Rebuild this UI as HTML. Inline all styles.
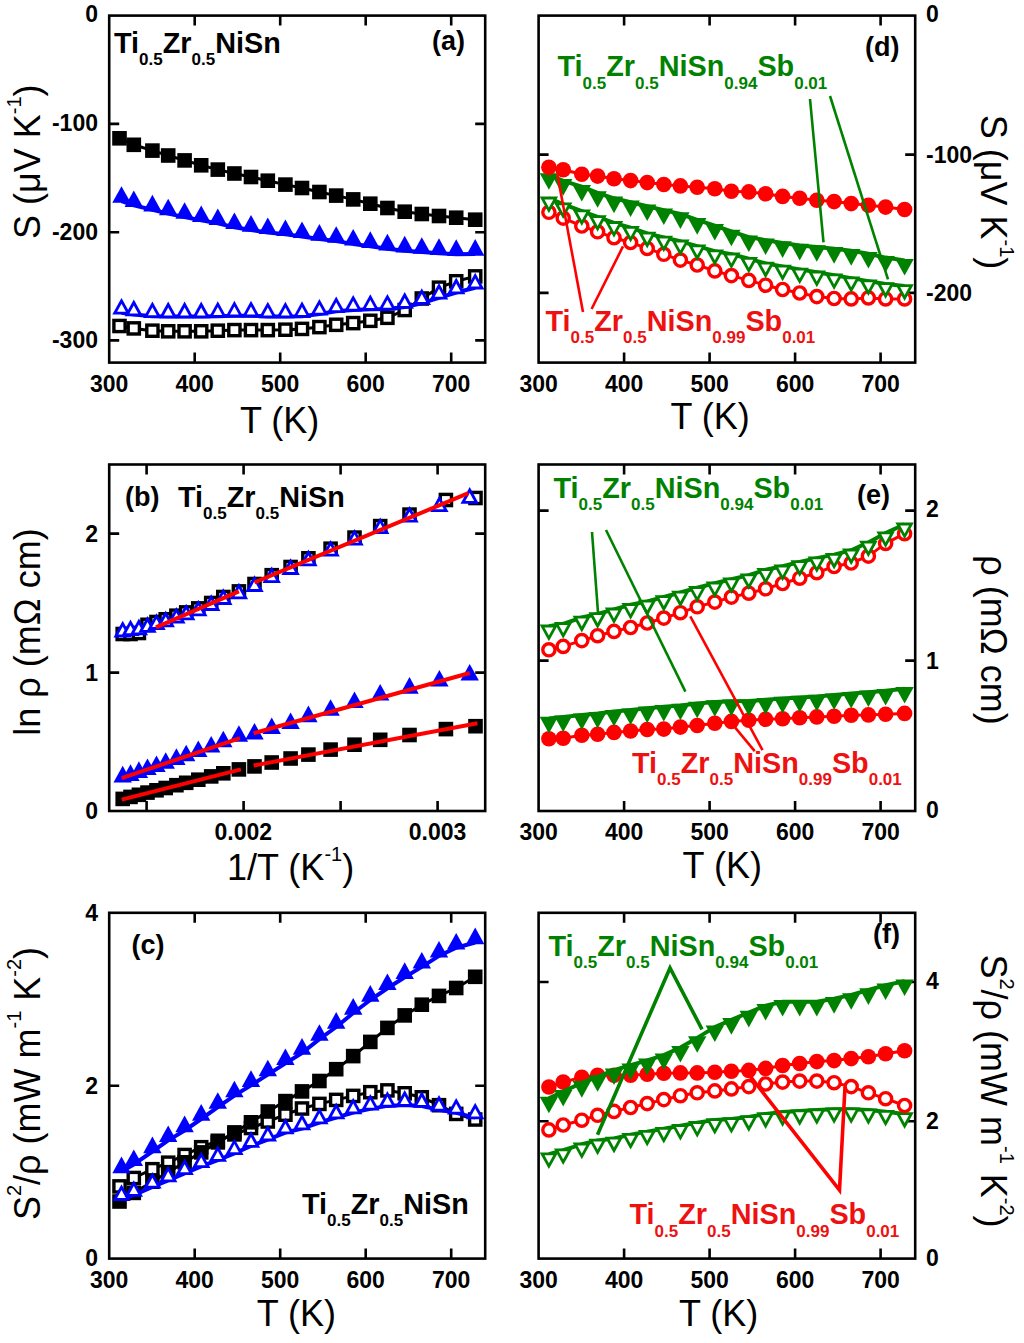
<!DOCTYPE html>
<html><head><meta charset="utf-8"><title>Figure</title>
<style>
html,body{margin:0;padding:0;background:#fff;}
body{width:1024px;height:1343px;overflow:hidden;font-family:"Liberation Sans",sans-serif;}
svg{display:block;}
#w{width:1024px;height:1343px;}
</style></head><body><div id="w">
<svg width="1024" height="1343" viewBox="0 0 1024 1343">
<rect width="1024" height="1343" fill="#fff"/>
<rect x="109.2" y="15.6" width="376" height="347" fill="none" stroke="#000" stroke-width="2.6"/>
<path d="M194.7 362.6v-10M194.7 15.6v10M280.2 362.6v-10M280.2 15.6v10M365.7 362.6v-10M365.7 15.6v10M451.2 362.6v-10M451.2 15.6v10M109.2 123.9h10M485.2 123.9h-10M109.2 232.2h10M485.2 232.2h-10M109.2 340.4h10M485.2 340.4h-10" stroke="#000" stroke-width="2.6" fill="none"/>
<polyline points="119.5,326 133.8,328.4 152.4,330.7 168.2,331.3 184.6,331.3 201.2,331.3 217.8,330.7 234.4,330.1 251,330.1 267.8,330.1 285.4,329.7 302,328.9 319.4,327.1 336.2,324.8 353.2,323.1 370.3,320.8 387.4,317.8 404.7,310 421.8,298.5 439,287.7 456.2,281.3 475.2,276.4" fill="none" stroke="#000" stroke-width="3.0" stroke-linejoin="round"/>
<rect x="113.9" y="320.4" width="11.2" height="11.2" fill="#fff" stroke="#000" stroke-width="3.4"/>
<rect x="128.2" y="322.8" width="11.2" height="11.2" fill="#fff" stroke="#000" stroke-width="3.4"/>
<rect x="146.8" y="325.1" width="11.2" height="11.2" fill="#fff" stroke="#000" stroke-width="3.4"/>
<rect x="162.6" y="325.7" width="11.2" height="11.2" fill="#fff" stroke="#000" stroke-width="3.4"/>
<rect x="179" y="325.7" width="11.2" height="11.2" fill="#fff" stroke="#000" stroke-width="3.4"/>
<rect x="195.6" y="325.7" width="11.2" height="11.2" fill="#fff" stroke="#000" stroke-width="3.4"/>
<rect x="212.2" y="325.1" width="11.2" height="11.2" fill="#fff" stroke="#000" stroke-width="3.4"/>
<rect x="228.8" y="324.5" width="11.2" height="11.2" fill="#fff" stroke="#000" stroke-width="3.4"/>
<rect x="245.4" y="324.5" width="11.2" height="11.2" fill="#fff" stroke="#000" stroke-width="3.4"/>
<rect x="262.2" y="324.5" width="11.2" height="11.2" fill="#fff" stroke="#000" stroke-width="3.4"/>
<rect x="279.8" y="324.1" width="11.2" height="11.2" fill="#fff" stroke="#000" stroke-width="3.4"/>
<rect x="296.4" y="323.3" width="11.2" height="11.2" fill="#fff" stroke="#000" stroke-width="3.4"/>
<rect x="313.8" y="321.5" width="11.2" height="11.2" fill="#fff" stroke="#000" stroke-width="3.4"/>
<rect x="330.6" y="319.2" width="11.2" height="11.2" fill="#fff" stroke="#000" stroke-width="3.4"/>
<rect x="347.6" y="317.5" width="11.2" height="11.2" fill="#fff" stroke="#000" stroke-width="3.4"/>
<rect x="364.7" y="315.2" width="11.2" height="11.2" fill="#fff" stroke="#000" stroke-width="3.4"/>
<rect x="381.8" y="312.2" width="11.2" height="11.2" fill="#fff" stroke="#000" stroke-width="3.4"/>
<rect x="399.1" y="304.4" width="11.2" height="11.2" fill="#fff" stroke="#000" stroke-width="3.4"/>
<rect x="416.2" y="292.9" width="11.2" height="11.2" fill="#fff" stroke="#000" stroke-width="3.4"/>
<rect x="433.4" y="282.1" width="11.2" height="11.2" fill="#fff" stroke="#000" stroke-width="3.4"/>
<rect x="450.6" y="275.7" width="11.2" height="11.2" fill="#fff" stroke="#000" stroke-width="3.4"/>
<rect x="469.6" y="270.8" width="11.2" height="11.2" fill="#fff" stroke="#000" stroke-width="3.4"/>
<polyline points="121.5,312.8 133.8,314.5 152.4,316.3 168.2,316.5 184.6,316.5 201.2,316.5 217.8,316.2 234.4,315.7 251,315.7 267.8,316.6 285.4,316.6 302,316.2 319.4,313.9 336.2,311.3 353.2,309.9 370.3,309.2 387.4,308.9 404.7,307 421.8,303.2 439,297.9 456.2,292.5 475.2,287.7" fill="none" stroke="#0000ff" stroke-width="4.0" stroke-linejoin="round"/>
<polygon points="112.3,314.5 130.7,314.5 121.5,297.9" fill="#0000ff"/><polygon points="117.1,311.7 125.9,311.7 121.5,303.7" fill="#fff"/>
<polygon points="124.6,316.2 143,316.2 133.8,299.6" fill="#0000ff"/><polygon points="129.4,313.4 138.2,313.4 133.8,305.4" fill="#fff"/>
<polygon points="143.2,318 161.6,318 152.4,301.4" fill="#0000ff"/><polygon points="148,315.2 156.8,315.2 152.4,307.2" fill="#fff"/>
<polygon points="159,318.2 177.4,318.2 168.2,301.6" fill="#0000ff"/><polygon points="163.8,315.4 172.6,315.4 168.2,307.4" fill="#fff"/>
<polygon points="175.4,318.2 193.8,318.2 184.6,301.6" fill="#0000ff"/><polygon points="180.2,315.4 189,315.4 184.6,307.4" fill="#fff"/>
<polygon points="192,318.2 210.4,318.2 201.2,301.6" fill="#0000ff"/><polygon points="196.8,315.4 205.6,315.4 201.2,307.4" fill="#fff"/>
<polygon points="208.6,317.9 227,317.9 217.8,301.3" fill="#0000ff"/><polygon points="213.4,315.1 222.2,315.1 217.8,307.1" fill="#fff"/>
<polygon points="225.2,317.4 243.6,317.4 234.4,300.8" fill="#0000ff"/><polygon points="230,314.6 238.8,314.6 234.4,306.6" fill="#fff"/>
<polygon points="241.8,317.4 260.2,317.4 251,300.8" fill="#0000ff"/><polygon points="246.6,314.6 255.4,314.6 251,306.6" fill="#fff"/>
<polygon points="258.6,318.3 277,318.3 267.8,301.7" fill="#0000ff"/><polygon points="263.4,315.5 272.2,315.5 267.8,307.5" fill="#fff"/>
<polygon points="276.2,318.3 294.6,318.3 285.4,301.7" fill="#0000ff"/><polygon points="281,315.5 289.8,315.5 285.4,307.5" fill="#fff"/>
<polygon points="292.8,317.9 311.2,317.9 302,301.3" fill="#0000ff"/><polygon points="297.6,315.1 306.4,315.1 302,307.1" fill="#fff"/>
<polygon points="310.2,315.6 328.6,315.6 319.4,299" fill="#0000ff"/><polygon points="315,312.8 323.8,312.8 319.4,304.8" fill="#fff"/>
<polygon points="327,313 345.4,313 336.2,296.4" fill="#0000ff"/><polygon points="331.8,310.2 340.6,310.2 336.2,302.2" fill="#fff"/>
<polygon points="344,311.6 362.4,311.6 353.2,295" fill="#0000ff"/><polygon points="348.8,308.8 357.6,308.8 353.2,300.8" fill="#fff"/>
<polygon points="361.1,310.9 379.5,310.9 370.3,294.3" fill="#0000ff"/><polygon points="365.9,308.1 374.7,308.1 370.3,300.1" fill="#fff"/>
<polygon points="378.2,310.6 396.6,310.6 387.4,294" fill="#0000ff"/><polygon points="383,307.8 391.8,307.8 387.4,299.8" fill="#fff"/>
<polygon points="395.5,308.7 413.9,308.7 404.7,292.1" fill="#0000ff"/><polygon points="400.3,305.9 409.1,305.9 404.7,297.9" fill="#fff"/>
<polygon points="412.6,304.9 431,304.9 421.8,288.3" fill="#0000ff"/><polygon points="417.4,302.1 426.2,302.1 421.8,294.1" fill="#fff"/>
<polygon points="429.8,299.6 448.2,299.6 439,283" fill="#0000ff"/><polygon points="434.6,296.8 443.4,296.8 439,288.8" fill="#fff"/>
<polygon points="447,294.2 465.4,294.2 456.2,277.6" fill="#0000ff"/><polygon points="451.8,291.4 460.6,291.4 456.2,283.4" fill="#fff"/>
<polygon points="466,289.4 484.4,289.4 475.2,272.8" fill="#0000ff"/><polygon points="470.8,286.6 479.6,286.6 475.2,278.6" fill="#fff"/>
<polyline points="119.5,138.3 133.8,144.8 152.4,150.6 168.2,155.5 184.6,160.4 201.2,165.3 217.8,169.6 234.4,173.5 251,177 267.8,180.7 285.4,184.6 302,188 319.4,192 336.2,195.6 353.2,199.4 370.3,203.7 387.4,208 404.7,211.7 421.8,214 439,216 456.2,217.7 475.2,219.7" fill="none" stroke="#000" stroke-width="3.0" stroke-linejoin="round"/>
<rect x="112.2" y="131" width="14.6" height="14.6" fill="#000"/>
<rect x="126.5" y="137.5" width="14.6" height="14.6" fill="#000"/>
<rect x="145.1" y="143.3" width="14.6" height="14.6" fill="#000"/>
<rect x="160.9" y="148.2" width="14.6" height="14.6" fill="#000"/>
<rect x="177.3" y="153.1" width="14.6" height="14.6" fill="#000"/>
<rect x="193.9" y="158" width="14.6" height="14.6" fill="#000"/>
<rect x="210.5" y="162.3" width="14.6" height="14.6" fill="#000"/>
<rect x="227.1" y="166.2" width="14.6" height="14.6" fill="#000"/>
<rect x="243.7" y="169.7" width="14.6" height="14.6" fill="#000"/>
<rect x="260.5" y="173.4" width="14.6" height="14.6" fill="#000"/>
<rect x="278.1" y="177.3" width="14.6" height="14.6" fill="#000"/>
<rect x="294.7" y="180.7" width="14.6" height="14.6" fill="#000"/>
<rect x="312.1" y="184.7" width="14.6" height="14.6" fill="#000"/>
<rect x="328.9" y="188.3" width="14.6" height="14.6" fill="#000"/>
<rect x="345.9" y="192.1" width="14.6" height="14.6" fill="#000"/>
<rect x="363" y="196.4" width="14.6" height="14.6" fill="#000"/>
<rect x="380.1" y="200.7" width="14.6" height="14.6" fill="#000"/>
<rect x="397.4" y="204.4" width="14.6" height="14.6" fill="#000"/>
<rect x="414.5" y="206.7" width="14.6" height="14.6" fill="#000"/>
<rect x="431.7" y="208.7" width="14.6" height="14.6" fill="#000"/>
<rect x="448.9" y="210.4" width="14.6" height="14.6" fill="#000"/>
<rect x="467.9" y="212.4" width="14.6" height="14.6" fill="#000"/>
<polyline points="121.5,201.1 133.8,205.4 152.4,209.7 168.2,213.6 184.6,217.1 201.2,220.3 217.8,223.4 234.4,227.3 251,230 267.8,232.4 285.4,234.3 302,236.4 319.4,239 336.2,241.1 353.2,243.9 370.3,246.2 387.4,248.7 404.7,250.7 421.8,252.1 439,253.2 456.2,254.2 475.2,254" fill="none" stroke="#0000ff" stroke-width="4.0" stroke-linejoin="round"/>
<polygon points="112.3,202.8 130.7,202.8 121.5,186.2" fill="#0000ff"/>
<polygon points="124.6,207.1 143,207.1 133.8,190.5" fill="#0000ff"/>
<polygon points="143.2,211.4 161.6,211.4 152.4,194.8" fill="#0000ff"/>
<polygon points="159,215.3 177.4,215.3 168.2,198.7" fill="#0000ff"/>
<polygon points="175.4,218.8 193.8,218.8 184.6,202.2" fill="#0000ff"/>
<polygon points="192,222 210.4,222 201.2,205.4" fill="#0000ff"/>
<polygon points="208.6,225.1 227,225.1 217.8,208.5" fill="#0000ff"/>
<polygon points="225.2,229 243.6,229 234.4,212.4" fill="#0000ff"/>
<polygon points="241.8,231.7 260.2,231.7 251,215.1" fill="#0000ff"/>
<polygon points="258.6,234.1 277,234.1 267.8,217.5" fill="#0000ff"/>
<polygon points="276.2,236 294.6,236 285.4,219.4" fill="#0000ff"/>
<polygon points="292.8,238.1 311.2,238.1 302,221.5" fill="#0000ff"/>
<polygon points="310.2,240.7 328.6,240.7 319.4,224.1" fill="#0000ff"/>
<polygon points="327,242.8 345.4,242.8 336.2,226.2" fill="#0000ff"/>
<polygon points="344,245.6 362.4,245.6 353.2,229" fill="#0000ff"/>
<polygon points="361.1,247.9 379.5,247.9 370.3,231.3" fill="#0000ff"/>
<polygon points="378.2,250.4 396.6,250.4 387.4,233.8" fill="#0000ff"/>
<polygon points="395.5,252.4 413.9,252.4 404.7,235.8" fill="#0000ff"/>
<polygon points="412.6,253.8 431,253.8 421.8,237.2" fill="#0000ff"/>
<polygon points="429.8,254.9 448.2,254.9 439,238.3" fill="#0000ff"/>
<polygon points="447,255.9 465.4,255.9 456.2,239.3" fill="#0000ff"/>
<polygon points="466,255.7 484.4,255.7 475.2,239.1" fill="#0000ff"/>
<rect x="109.2" y="464.5" width="376" height="346.5" fill="none" stroke="#000" stroke-width="2.6"/>
<path d="M146.6 811v-10M146.6 464.5v10M243.6 811v-10M243.6 464.5v10M340.6 811v-10M340.6 464.5v10M437.6 811v-10M437.6 464.5v10M109.2 533.6h10M485.2 533.6h-10M109.2 672.6h10M485.2 672.6h-10" stroke="#000" stroke-width="2.6" fill="none"/>
<rect x="117.1" y="628.4" width="11.2" height="11.2" fill="#fff" stroke="#000" stroke-width="3.4"/>
<rect x="124.9" y="628.4" width="11.2" height="11.2" fill="#fff" stroke="#000" stroke-width="3.4"/>
<rect x="133.3" y="627.4" width="11.2" height="11.2" fill="#fff" stroke="#000" stroke-width="3.4"/>
<rect x="141.9" y="619.2" width="11.2" height="11.2" fill="#fff" stroke="#000" stroke-width="3.4"/>
<rect x="150.9" y="616.4" width="11.2" height="11.2" fill="#fff" stroke="#000" stroke-width="3.4"/>
<rect x="160.1" y="613.7" width="11.2" height="11.2" fill="#fff" stroke="#000" stroke-width="3.4"/>
<rect x="170.8" y="610.1" width="11.2" height="11.2" fill="#fff" stroke="#000" stroke-width="3.4"/>
<rect x="180.6" y="606.8" width="11.2" height="11.2" fill="#fff" stroke="#000" stroke-width="3.4"/>
<rect x="192.7" y="602.8" width="11.2" height="11.2" fill="#fff" stroke="#000" stroke-width="3.4"/>
<rect x="205.6" y="597.4" width="11.2" height="11.2" fill="#fff" stroke="#000" stroke-width="3.4"/>
<rect x="217.7" y="591.4" width="11.2" height="11.2" fill="#fff" stroke="#000" stroke-width="3.4"/>
<rect x="233.3" y="585.8" width="11.2" height="11.2" fill="#fff" stroke="#000" stroke-width="3.4"/>
<rect x="248.9" y="578.4" width="11.2" height="11.2" fill="#fff" stroke="#000" stroke-width="3.4"/>
<rect x="266.1" y="569.6" width="11.2" height="11.2" fill="#fff" stroke="#000" stroke-width="3.4"/>
<rect x="285" y="561.4" width="11.2" height="11.2" fill="#fff" stroke="#000" stroke-width="3.4"/>
<rect x="302.8" y="552.7" width="11.2" height="11.2" fill="#fff" stroke="#000" stroke-width="3.4"/>
<rect x="325" y="543.1" width="11.2" height="11.2" fill="#fff" stroke="#000" stroke-width="3.4"/>
<rect x="348.9" y="532" width="11.2" height="11.2" fill="#fff" stroke="#000" stroke-width="3.4"/>
<rect x="374.6" y="520.5" width="11.2" height="11.2" fill="#fff" stroke="#000" stroke-width="3.4"/>
<rect x="403.9" y="509" width="11.2" height="11.2" fill="#fff" stroke="#000" stroke-width="3.4"/>
<rect x="440.3" y="494.4" width="11.2" height="11.2" fill="#fff" stroke="#000" stroke-width="3.4"/>
<rect x="469.9" y="492.4" width="11.2" height="11.2" fill="#fff" stroke="#000" stroke-width="3.4"/>
<polygon points="113.5,637.4 131.9,637.4 122.7,620.8" fill="#0000ff"/><polygon points="118.3,634.6 127.1,634.6 122.7,626.6" fill="#fff"/>
<polygon points="121.3,636 139.7,636 130.5,619.4" fill="#0000ff"/><polygon points="126.1,633.2 134.9,633.2 130.5,625.2" fill="#fff"/>
<polygon points="129.7,635.2 148.1,635.2 138.9,618.6" fill="#0000ff"/><polygon points="134.5,632.4 143.3,632.4 138.9,624.4" fill="#fff"/>
<polygon points="138.3,632.7 156.7,632.7 147.5,616.1" fill="#0000ff"/><polygon points="143.1,629.9 151.9,629.9 147.5,621.9" fill="#fff"/>
<polygon points="147.3,629.9 165.7,629.9 156.5,613.3" fill="#0000ff"/><polygon points="152.1,627.1 160.9,627.1 156.5,619.1" fill="#fff"/>
<polygon points="156.5,627.2 174.9,627.2 165.7,610.6" fill="#0000ff"/><polygon points="161.3,624.4 170.1,624.4 165.7,616.4" fill="#fff"/>
<polygon points="167.2,623.6 185.6,623.6 176.4,607" fill="#0000ff"/><polygon points="172,620.8 180.8,620.8 176.4,612.8" fill="#fff"/>
<polygon points="177,620.3 195.4,620.3 186.2,603.7" fill="#0000ff"/><polygon points="181.8,617.5 190.6,617.5 186.2,609.5" fill="#fff"/>
<polygon points="189.1,616.3 207.5,616.3 198.3,599.7" fill="#0000ff"/><polygon points="193.9,613.5 202.7,613.5 198.3,605.5" fill="#fff"/>
<polygon points="202,610.9 220.4,610.9 211.2,594.3" fill="#0000ff"/><polygon points="206.8,608.1 215.6,608.1 211.2,600" fill="#fff"/>
<polygon points="214.1,604.9 232.5,604.9 223.3,588.3" fill="#0000ff"/><polygon points="218.9,602.1 227.7,602.1 223.3,594.1" fill="#fff"/>
<polygon points="229.7,599.3 248.1,599.3 238.9,582.7" fill="#0000ff"/><polygon points="234.5,596.5 243.3,596.5 238.9,588.5" fill="#fff"/>
<polygon points="245.3,591.9 263.7,591.9 254.5,575.3" fill="#0000ff"/><polygon points="250.1,589.1 258.9,589.1 254.5,581.1" fill="#fff"/>
<polygon points="262.5,583.1 280.9,583.1 271.7,566.5" fill="#0000ff"/><polygon points="267.3,580.3 276.1,580.3 271.7,572.3" fill="#fff"/>
<polygon points="281.4,574.9 299.8,574.9 290.6,558.3" fill="#0000ff"/><polygon points="286.2,572.1 295,572.1 290.6,564.1" fill="#fff"/>
<polygon points="299.2,566.2 317.6,566.2 308.4,549.6" fill="#0000ff"/><polygon points="304,563.4 312.8,563.4 308.4,555.4" fill="#fff"/>
<polygon points="321.4,556.6 339.8,556.6 330.6,540" fill="#0000ff"/><polygon points="326.2,553.8 335,553.8 330.6,545.8" fill="#fff"/>
<polygon points="345.3,545.5 363.7,545.5 354.5,528.9" fill="#0000ff"/><polygon points="350.1,542.7 358.9,542.7 354.5,534.6" fill="#fff"/>
<polygon points="371,534 389.4,534 380.2,517.4" fill="#0000ff"/><polygon points="375.8,531.2 384.6,531.2 380.2,523.1" fill="#fff"/>
<polygon points="400.3,522.5 418.7,522.5 409.5,505.9" fill="#0000ff"/><polygon points="405.1,519.7 413.9,519.7 409.5,511.7" fill="#fff"/>
<polygon points="430.2,512.1 448.6,512.1 439.4,495.5" fill="#0000ff"/><polygon points="435,509.3 443.8,509.3 439.4,501.3" fill="#fff"/>
<polygon points="460.5,503.7 478.9,503.7 469.7,487.1" fill="#0000ff"/><polygon points="465.3,500.9 474.1,500.9 469.7,492.9" fill="#fff"/>
<rect x="115.4" y="791.6" width="14.6" height="14.6" fill="#000"/>
<rect x="123.2" y="789.6" width="14.6" height="14.6" fill="#000"/>
<rect x="131.6" y="787.5" width="14.6" height="14.6" fill="#000"/>
<rect x="140.2" y="785.3" width="14.6" height="14.6" fill="#000"/>
<rect x="149.2" y="783" width="14.6" height="14.6" fill="#000"/>
<rect x="158.4" y="780.7" width="14.6" height="14.6" fill="#000"/>
<rect x="169.1" y="777.9" width="14.6" height="14.6" fill="#000"/>
<rect x="178.9" y="775.5" width="14.6" height="14.6" fill="#000"/>
<rect x="191" y="772.4" width="14.6" height="14.6" fill="#000"/>
<rect x="203.9" y="769.1" width="14.6" height="14.6" fill="#000"/>
<rect x="216" y="766" width="14.6" height="14.6" fill="#000"/>
<rect x="231.6" y="762.1" width="14.6" height="14.6" fill="#000"/>
<rect x="247.2" y="759.1" width="14.6" height="14.6" fill="#000"/>
<rect x="264.4" y="755.2" width="14.6" height="14.6" fill="#000"/>
<rect x="283.3" y="751.2" width="14.6" height="14.6" fill="#000"/>
<rect x="301.1" y="747.3" width="14.6" height="14.6" fill="#000"/>
<rect x="323.3" y="742.3" width="14.6" height="14.6" fill="#000"/>
<rect x="347.2" y="737.4" width="14.6" height="14.6" fill="#000"/>
<rect x="372.9" y="732.5" width="14.6" height="14.6" fill="#000"/>
<rect x="402.2" y="727.7" width="14.6" height="14.6" fill="#000"/>
<rect x="438.6" y="721.8" width="14.6" height="14.6" fill="#000"/>
<rect x="468.2" y="718.9" width="14.6" height="14.6" fill="#000"/>
<polygon points="113.5,782.4 131.9,782.4 122.7,765.8" fill="#0000ff"/>
<polygon points="121.3,780.9 139.7,780.9 130.5,764.3" fill="#0000ff"/>
<polygon points="129.7,777.9 148.1,777.9 138.9,761.3" fill="#0000ff"/>
<polygon points="138.3,775 156.7,775 147.5,758.4" fill="#0000ff"/>
<polygon points="147.3,772.1 165.7,772.1 156.5,755.5" fill="#0000ff"/>
<polygon points="156.5,768.8 174.9,768.8 165.7,752.2" fill="#0000ff"/>
<polygon points="167.2,764.9 185.6,764.9 176.4,748.3" fill="#0000ff"/>
<polygon points="177,761.3 195.4,761.3 186.2,744.7" fill="#0000ff"/>
<polygon points="189.1,757 207.5,757 198.3,740.4" fill="#0000ff"/>
<polygon points="202,752.5 220.4,752.5 211.2,735.9" fill="#0000ff"/>
<polygon points="214.1,747.3 232.5,747.3 223.3,730.7" fill="#0000ff"/>
<polygon points="229.7,741.8 248.1,741.8 238.9,725.2" fill="#0000ff"/>
<polygon points="245.3,739.5 263.7,739.5 254.5,722.9" fill="#0000ff"/>
<polygon points="262.5,734 280.9,734 271.7,717.4" fill="#0000ff"/>
<polygon points="281.4,729 299.8,729 290.6,712.4" fill="#0000ff"/>
<polygon points="299.2,722.2 317.6,722.2 308.4,705.6" fill="#0000ff"/>
<polygon points="321.4,715.8 339.8,715.8 330.6,699.2" fill="#0000ff"/>
<polygon points="345.3,708 363.7,708 354.5,691.4" fill="#0000ff"/>
<polygon points="371,700.6 389.4,700.6 380.2,684" fill="#0000ff"/>
<polygon points="400.3,693.7 418.7,693.7 409.5,677.1" fill="#0000ff"/>
<polygon points="430.2,686.5 448.6,686.5 439.4,669.9" fill="#0000ff"/>
<polygon points="460.5,680.6 478.9,680.6 469.7,664" fill="#0000ff"/>
<line x1="155.9" y1="627.4" x2="238.9" y2="591.3" stroke="#ff0000" stroke-width="4.0"/>
<line x1="254.5" y1="582.5" x2="468.3" y2="493.2" stroke="#ff0000" stroke-width="4.0"/>
<line x1="121.7" y1="778.2" x2="239.9" y2="738.1" stroke="#ff0000" stroke-width="4.0"/>
<line x1="253.6" y1="733.2" x2="469.7" y2="673" stroke="#ff0000" stroke-width="4.0"/>
<line x1="121.7" y1="799.6" x2="240.9" y2="769.4" stroke="#ff0000" stroke-width="4.0"/>
<line x1="253.6" y1="765.5" x2="477.5" y2="723.2" stroke="#ff0000" stroke-width="4.0"/>
<rect x="109.2" y="912.8" width="376" height="345.8" fill="none" stroke="#000" stroke-width="2.6"/>
<path d="M194.7 1258.6v-10M194.7 912.8v10M280.2 1258.6v-10M280.2 912.8v10M365.7 1258.6v-10M365.7 912.8v10M451.2 1258.6v-10M451.2 912.8v10M109.2 1085.7h10M485.2 1085.7h-10" stroke="#000" stroke-width="2.6" fill="none"/>
<polyline points="119.5,1186.4 133.8,1178 152.4,1169.2 168.2,1162.7 184.6,1155 201.2,1147.2 217.8,1140.8 234.4,1134.4 251,1128 267.8,1121.5 285.4,1114.7 302,1108.5 319.4,1103.9 336.2,1099.9 353.2,1095.9 370.3,1092.2 387.4,1090.4 404.7,1093.3 421.8,1097.3 439,1105.2 456.2,1113.9 475.2,1119.5" fill="none" stroke="#000" stroke-width="3.0" stroke-linejoin="round"/>
<rect x="113.9" y="1180.8" width="11.2" height="11.2" fill="#fff" stroke="#000" stroke-width="3.4"/>
<rect x="128.2" y="1172.4" width="11.2" height="11.2" fill="#fff" stroke="#000" stroke-width="3.4"/>
<rect x="146.8" y="1163.6" width="11.2" height="11.2" fill="#fff" stroke="#000" stroke-width="3.4"/>
<rect x="162.6" y="1157.1" width="11.2" height="11.2" fill="#fff" stroke="#000" stroke-width="3.4"/>
<rect x="179" y="1149.4" width="11.2" height="11.2" fill="#fff" stroke="#000" stroke-width="3.4"/>
<rect x="195.6" y="1141.6" width="11.2" height="11.2" fill="#fff" stroke="#000" stroke-width="3.4"/>
<rect x="212.2" y="1135.2" width="11.2" height="11.2" fill="#fff" stroke="#000" stroke-width="3.4"/>
<rect x="228.8" y="1128.8" width="11.2" height="11.2" fill="#fff" stroke="#000" stroke-width="3.4"/>
<rect x="245.4" y="1122.4" width="11.2" height="11.2" fill="#fff" stroke="#000" stroke-width="3.4"/>
<rect x="262.2" y="1115.9" width="11.2" height="11.2" fill="#fff" stroke="#000" stroke-width="3.4"/>
<rect x="279.8" y="1109.1" width="11.2" height="11.2" fill="#fff" stroke="#000" stroke-width="3.4"/>
<rect x="296.4" y="1102.9" width="11.2" height="11.2" fill="#fff" stroke="#000" stroke-width="3.4"/>
<rect x="313.8" y="1098.3" width="11.2" height="11.2" fill="#fff" stroke="#000" stroke-width="3.4"/>
<rect x="330.6" y="1094.3" width="11.2" height="11.2" fill="#fff" stroke="#000" stroke-width="3.4"/>
<rect x="347.6" y="1090.3" width="11.2" height="11.2" fill="#fff" stroke="#000" stroke-width="3.4"/>
<rect x="364.7" y="1086.6" width="11.2" height="11.2" fill="#fff" stroke="#000" stroke-width="3.4"/>
<rect x="381.8" y="1084.8" width="11.2" height="11.2" fill="#fff" stroke="#000" stroke-width="3.4"/>
<rect x="399.1" y="1087.7" width="11.2" height="11.2" fill="#fff" stroke="#000" stroke-width="3.4"/>
<rect x="416.2" y="1091.7" width="11.2" height="11.2" fill="#fff" stroke="#000" stroke-width="3.4"/>
<rect x="433.4" y="1099.6" width="11.2" height="11.2" fill="#fff" stroke="#000" stroke-width="3.4"/>
<rect x="450.6" y="1108.3" width="11.2" height="11.2" fill="#fff" stroke="#000" stroke-width="3.4"/>
<rect x="469.6" y="1113.9" width="11.2" height="11.2" fill="#fff" stroke="#000" stroke-width="3.4"/>
<polyline points="119.5,1201.5 133.8,1192.9 152.4,1181.7 168.2,1172.2 184.6,1162.3 201.2,1152.4 217.8,1142.4 234.4,1132.4 251,1122.3 267.8,1111.5 285.4,1101.1 302,1091.4 319.4,1081 336.2,1069.2 353.2,1056.1 370.3,1041.9 387.4,1027.9 404.7,1015.4 421.8,1004.7 439,995.9 456.2,988 475.2,976.8" fill="none" stroke="#000" stroke-width="3.0" stroke-linejoin="round"/>
<rect x="112.2" y="1194.2" width="14.6" height="14.6" fill="#000"/>
<rect x="126.5" y="1185.6" width="14.6" height="14.6" fill="#000"/>
<rect x="145.1" y="1174.4" width="14.6" height="14.6" fill="#000"/>
<rect x="160.9" y="1164.9" width="14.6" height="14.6" fill="#000"/>
<rect x="177.3" y="1155" width="14.6" height="14.6" fill="#000"/>
<rect x="193.9" y="1145.1" width="14.6" height="14.6" fill="#000"/>
<rect x="210.5" y="1135.1" width="14.6" height="14.6" fill="#000"/>
<rect x="227.1" y="1125.1" width="14.6" height="14.6" fill="#000"/>
<rect x="243.7" y="1115" width="14.6" height="14.6" fill="#000"/>
<rect x="260.5" y="1104.2" width="14.6" height="14.6" fill="#000"/>
<rect x="278.1" y="1093.8" width="14.6" height="14.6" fill="#000"/>
<rect x="294.7" y="1084.1" width="14.6" height="14.6" fill="#000"/>
<rect x="312.1" y="1073.7" width="14.6" height="14.6" fill="#000"/>
<rect x="328.9" y="1061.9" width="14.6" height="14.6" fill="#000"/>
<rect x="345.9" y="1048.8" width="14.6" height="14.6" fill="#000"/>
<rect x="363" y="1034.6" width="14.6" height="14.6" fill="#000"/>
<rect x="380.1" y="1020.6" width="14.6" height="14.6" fill="#000"/>
<rect x="397.4" y="1008.1" width="14.6" height="14.6" fill="#000"/>
<rect x="414.5" y="997.4" width="14.6" height="14.6" fill="#000"/>
<rect x="431.7" y="988.6" width="14.6" height="14.6" fill="#000"/>
<rect x="448.9" y="980.7" width="14.6" height="14.6" fill="#000"/>
<rect x="467.9" y="969.5" width="14.6" height="14.6" fill="#000"/>
<polyline points="121.5,1199.2 133.8,1195.1 152.4,1186.9 168.2,1180.5 184.6,1173.4 201.2,1166.4 217.8,1160.1 234.4,1153.3 251,1146 267.8,1139.7 285.4,1132.6 302,1128.5 319.4,1122.5 336.2,1117.5 353.2,1112.6 370.3,1108.9 387.4,1105.9 404.7,1105 421.8,1106 439,1109.9 456.2,1112.9 475.2,1117.6" fill="none" stroke="#0000ff" stroke-width="4.0" stroke-linejoin="round"/>
<polygon points="112.3,1200.9 130.7,1200.9 121.5,1184.3" fill="#0000ff"/><polygon points="117.1,1198.1 125.9,1198.1 121.5,1190.1" fill="#fff"/>
<polygon points="124.6,1196.8 143,1196.8 133.8,1180.2" fill="#0000ff"/><polygon points="129.4,1194 138.2,1194 133.8,1185.9" fill="#fff"/>
<polygon points="143.2,1188.6 161.6,1188.6 152.4,1172" fill="#0000ff"/><polygon points="148,1185.8 156.8,1185.8 152.4,1177.8" fill="#fff"/>
<polygon points="159,1182.2 177.4,1182.2 168.2,1165.6" fill="#0000ff"/><polygon points="163.8,1179.4 172.6,1179.4 168.2,1171.3" fill="#fff"/>
<polygon points="175.4,1175.1 193.8,1175.1 184.6,1158.5" fill="#0000ff"/><polygon points="180.2,1172.3 189,1172.3 184.6,1164.3" fill="#fff"/>
<polygon points="192,1168.1 210.4,1168.1 201.2,1151.5" fill="#0000ff"/><polygon points="196.8,1165.3 205.6,1165.3 201.2,1157.2" fill="#fff"/>
<polygon points="208.6,1161.8 227,1161.8 217.8,1145.2" fill="#0000ff"/><polygon points="213.4,1159 222.2,1159 217.8,1151" fill="#fff"/>
<polygon points="225.2,1155 243.6,1155 234.4,1138.4" fill="#0000ff"/><polygon points="230,1152.2 238.8,1152.2 234.4,1144.1" fill="#fff"/>
<polygon points="241.8,1147.7 260.2,1147.7 251,1131.1" fill="#0000ff"/><polygon points="246.6,1144.9 255.4,1144.9 251,1136.9" fill="#fff"/>
<polygon points="258.6,1141.4 277,1141.4 267.8,1124.8" fill="#0000ff"/><polygon points="263.4,1138.6 272.2,1138.6 267.8,1130.6" fill="#fff"/>
<polygon points="276.2,1134.3 294.6,1134.3 285.4,1117.7" fill="#0000ff"/><polygon points="281,1131.5 289.8,1131.5 285.4,1123.5" fill="#fff"/>
<polygon points="292.8,1130.2 311.2,1130.2 302,1113.6" fill="#0000ff"/><polygon points="297.6,1127.4 306.4,1127.4 302,1119.3" fill="#fff"/>
<polygon points="310.2,1124.2 328.6,1124.2 319.4,1107.6" fill="#0000ff"/><polygon points="315,1121.4 323.8,1121.4 319.4,1113.3" fill="#fff"/>
<polygon points="327,1119.2 345.4,1119.2 336.2,1102.6" fill="#0000ff"/><polygon points="331.8,1116.4 340.6,1116.4 336.2,1108.4" fill="#fff"/>
<polygon points="344,1114.3 362.4,1114.3 353.2,1097.7" fill="#0000ff"/><polygon points="348.8,1111.5 357.6,1111.5 353.2,1103.5" fill="#fff"/>
<polygon points="361.1,1110.6 379.5,1110.6 370.3,1094" fill="#0000ff"/><polygon points="365.9,1107.8 374.7,1107.8 370.3,1099.7" fill="#fff"/>
<polygon points="378.2,1107.6 396.6,1107.6 387.4,1091" fill="#0000ff"/><polygon points="383,1104.8 391.8,1104.8 387.4,1096.7" fill="#fff"/>
<polygon points="395.5,1106.7 413.9,1106.7 404.7,1090.1" fill="#0000ff"/><polygon points="400.3,1103.9 409.1,1103.9 404.7,1095.9" fill="#fff"/>
<polygon points="412.6,1107.7 431,1107.7 421.8,1091.1" fill="#0000ff"/><polygon points="417.4,1104.9 426.2,1104.9 421.8,1096.9" fill="#fff"/>
<polygon points="429.8,1111.6 448.2,1111.6 439,1095" fill="#0000ff"/><polygon points="434.6,1108.8 443.4,1108.8 439,1100.8" fill="#fff"/>
<polygon points="447,1114.6 465.4,1114.6 456.2,1098" fill="#0000ff"/><polygon points="451.8,1111.8 460.6,1111.8 456.2,1103.8" fill="#fff"/>
<polygon points="466,1119.3 484.4,1119.3 475.2,1102.7" fill="#0000ff"/><polygon points="470.8,1116.5 479.6,1116.5 475.2,1108.5" fill="#fff"/>
<polyline points="121.5,1171.5 133.8,1164.4 152.4,1151.5 168.2,1140.4 184.6,1130.5 201.2,1119 217.8,1107.1 234.4,1095.6 251,1085.2 267.8,1074.6 285.4,1063.4 302,1053 319.4,1039.1 336.2,1027 353.2,1013 370.3,1000 387.4,988.3 404.7,977.2 421.8,966.9 439,955.9 456.2,947.8 475.2,942.5" fill="none" stroke="#0000ff" stroke-width="4.0" stroke-linejoin="round"/>
<polygon points="112.3,1173.2 130.7,1173.2 121.5,1156.6" fill="#0000ff"/>
<polygon points="124.6,1166.1 143,1166.1 133.8,1149.5" fill="#0000ff"/>
<polygon points="143.2,1153.2 161.6,1153.2 152.4,1136.6" fill="#0000ff"/>
<polygon points="159,1142.1 177.4,1142.1 168.2,1125.5" fill="#0000ff"/>
<polygon points="175.4,1132.2 193.8,1132.2 184.6,1115.6" fill="#0000ff"/>
<polygon points="192,1120.7 210.4,1120.7 201.2,1104.1" fill="#0000ff"/>
<polygon points="208.6,1108.8 227,1108.8 217.8,1092.2" fill="#0000ff"/>
<polygon points="225.2,1097.3 243.6,1097.3 234.4,1080.7" fill="#0000ff"/>
<polygon points="241.8,1086.9 260.2,1086.9 251,1070.3" fill="#0000ff"/>
<polygon points="258.6,1076.3 277,1076.3 267.8,1059.7" fill="#0000ff"/>
<polygon points="276.2,1065.1 294.6,1065.1 285.4,1048.5" fill="#0000ff"/>
<polygon points="292.8,1054.7 311.2,1054.7 302,1038.1" fill="#0000ff"/>
<polygon points="310.2,1040.8 328.6,1040.8 319.4,1024.2" fill="#0000ff"/>
<polygon points="327,1028.7 345.4,1028.7 336.2,1012.1" fill="#0000ff"/>
<polygon points="344,1014.7 362.4,1014.7 353.2,998.1" fill="#0000ff"/>
<polygon points="361.1,1001.7 379.5,1001.7 370.3,985.1" fill="#0000ff"/>
<polygon points="378.2,990 396.6,990 387.4,973.4" fill="#0000ff"/>
<polygon points="395.5,978.9 413.9,978.9 404.7,962.3" fill="#0000ff"/>
<polygon points="412.6,968.6 431,968.6 421.8,952" fill="#0000ff"/>
<polygon points="429.8,957.6 448.2,957.6 439,941" fill="#0000ff"/>
<polygon points="447,949.5 465.4,949.5 456.2,932.9" fill="#0000ff"/>
<polygon points="466,944.2 484.4,944.2 475.2,927.6" fill="#0000ff"/>
<rect x="538.6" y="15.6" width="376.6" height="347" fill="none" stroke="#000" stroke-width="2.6"/>
<path d="M624.1 362.6v-10M624.1 15.6v10M709.6 362.6v-10M709.6 15.6v10M795.1 362.6v-10M795.1 15.6v10M880.6 362.6v-10M880.6 15.6v10M538.6 154.6h10M915.2 154.6h-10M538.6 292.9h10M915.2 292.9h-10" stroke="#000" stroke-width="2.6" fill="none"/>
<polyline points="548.9,212.3 563.2,218.1 581.8,226 597.6,231.8 614,237.7 630.6,242.5 647.2,248.4 663.8,254.3 680.4,260.1 697.2,265 714.8,270.9 731.4,275.6 748.8,280.4 765.6,285.2 782.6,289.5 799.7,293 816.8,296.6 834.1,298.5 851.2,298.9 868.4,297.9 885.6,298.9 904.6,298.9" fill="none" stroke="#ff0000" stroke-width="3.0" stroke-linejoin="round"/>
<circle cx="548.9" cy="212.3" r="6.1" fill="#fff" stroke="#ff0000" stroke-width="3.4"/>
<circle cx="563.2" cy="218.1" r="6.1" fill="#fff" stroke="#ff0000" stroke-width="3.4"/>
<circle cx="581.8" cy="226" r="6.1" fill="#fff" stroke="#ff0000" stroke-width="3.4"/>
<circle cx="597.6" cy="231.8" r="6.1" fill="#fff" stroke="#ff0000" stroke-width="3.4"/>
<circle cx="614" cy="237.7" r="6.1" fill="#fff" stroke="#ff0000" stroke-width="3.4"/>
<circle cx="630.6" cy="242.5" r="6.1" fill="#fff" stroke="#ff0000" stroke-width="3.4"/>
<circle cx="647.2" cy="248.4" r="6.1" fill="#fff" stroke="#ff0000" stroke-width="3.4"/>
<circle cx="663.8" cy="254.3" r="6.1" fill="#fff" stroke="#ff0000" stroke-width="3.4"/>
<circle cx="680.4" cy="260.1" r="6.1" fill="#fff" stroke="#ff0000" stroke-width="3.4"/>
<circle cx="697.2" cy="265" r="6.1" fill="#fff" stroke="#ff0000" stroke-width="3.4"/>
<circle cx="714.8" cy="270.9" r="6.1" fill="#fff" stroke="#ff0000" stroke-width="3.4"/>
<circle cx="731.4" cy="275.6" r="6.1" fill="#fff" stroke="#ff0000" stroke-width="3.4"/>
<circle cx="748.8" cy="280.4" r="6.1" fill="#fff" stroke="#ff0000" stroke-width="3.4"/>
<circle cx="765.6" cy="285.2" r="6.1" fill="#fff" stroke="#ff0000" stroke-width="3.4"/>
<circle cx="782.6" cy="289.5" r="6.1" fill="#fff" stroke="#ff0000" stroke-width="3.4"/>
<circle cx="799.7" cy="293" r="6.1" fill="#fff" stroke="#ff0000" stroke-width="3.4"/>
<circle cx="816.8" cy="296.6" r="6.1" fill="#fff" stroke="#ff0000" stroke-width="3.4"/>
<circle cx="834.1" cy="298.5" r="6.1" fill="#fff" stroke="#ff0000" stroke-width="3.4"/>
<circle cx="851.2" cy="298.9" r="6.1" fill="#fff" stroke="#ff0000" stroke-width="3.4"/>
<circle cx="868.4" cy="297.9" r="6.1" fill="#fff" stroke="#ff0000" stroke-width="3.4"/>
<circle cx="885.6" cy="298.9" r="6.1" fill="#fff" stroke="#ff0000" stroke-width="3.4"/>
<circle cx="904.6" cy="298.9" r="6.1" fill="#fff" stroke="#ff0000" stroke-width="3.4"/>
<polyline points="548.9,198.3 563.2,204.2 581.8,211.1 597.6,216.9 614,222.8 630.6,227.6 647.2,233.5 663.8,237.4 680.4,241.3 697.2,246.2 714.8,251.1 731.4,254.3 748.8,258.6 765.6,263.5 782.6,266.4 799.7,269.4 816.8,272.3 834.1,275.2 851.2,278.1 868.4,281.1 885.6,284 904.6,286" fill="none" stroke="#008200" stroke-width="4.0" stroke-linejoin="round"/>
<polygon points="539.7,196.6 558.1,196.6 548.9,213.2" fill="#008200"/><polygon points="544.5,199.4 553.3,199.4 548.9,207.4" fill="#fff"/>
<polygon points="554,202.5 572.4,202.5 563.2,219.1" fill="#008200"/><polygon points="558.8,205.3 567.6,205.3 563.2,213.3" fill="#fff"/>
<polygon points="572.6,209.4 591,209.4 581.8,226" fill="#008200"/><polygon points="577.4,212.2 586.2,212.2 581.8,220.2" fill="#fff"/>
<polygon points="588.4,215.2 606.8,215.2 597.6,231.8" fill="#008200"/><polygon points="593.2,218 602,218 597.6,226" fill="#fff"/>
<polygon points="604.8,221.1 623.2,221.1 614,237.7" fill="#008200"/><polygon points="609.6,223.9 618.4,223.9 614,231.9" fill="#fff"/>
<polygon points="621.4,225.9 639.8,225.9 630.6,242.5" fill="#008200"/><polygon points="626.2,228.7 635,228.7 630.6,236.7" fill="#fff"/>
<polygon points="638,231.8 656.4,231.8 647.2,248.4" fill="#008200"/><polygon points="642.8,234.6 651.6,234.6 647.2,242.6" fill="#fff"/>
<polygon points="654.6,235.7 673,235.7 663.8,252.3" fill="#008200"/><polygon points="659.4,238.5 668.2,238.5 663.8,246.5" fill="#fff"/>
<polygon points="671.2,239.6 689.6,239.6 680.4,256.2" fill="#008200"/><polygon points="676,242.4 684.8,242.4 680.4,250.4" fill="#fff"/>
<polygon points="688,244.5 706.4,244.5 697.2,261.1" fill="#008200"/><polygon points="692.8,247.3 701.6,247.3 697.2,255.3" fill="#fff"/>
<polygon points="705.6,249.4 724,249.4 714.8,266" fill="#008200"/><polygon points="710.4,252.2 719.2,252.2 714.8,260.2" fill="#fff"/>
<polygon points="722.2,252.6 740.6,252.6 731.4,269.2" fill="#008200"/><polygon points="727,255.4 735.8,255.4 731.4,263.4" fill="#fff"/>
<polygon points="739.6,256.9 758,256.9 748.8,273.5" fill="#008200"/><polygon points="744.4,259.7 753.2,259.7 748.8,267.7" fill="#fff"/>
<polygon points="756.4,261.8 774.8,261.8 765.6,278.4" fill="#008200"/><polygon points="761.2,264.6 770,264.6 765.6,272.6" fill="#fff"/>
<polygon points="773.4,264.7 791.8,264.7 782.6,281.3" fill="#008200"/><polygon points="778.2,267.5 787,267.5 782.6,275.5" fill="#fff"/>
<polygon points="790.5,267.7 808.9,267.7 799.7,284.3" fill="#008200"/><polygon points="795.3,270.5 804.1,270.5 799.7,278.5" fill="#fff"/>
<polygon points="807.6,270.6 826,270.6 816.8,287.2" fill="#008200"/><polygon points="812.4,273.4 821.2,273.4 816.8,281.4" fill="#fff"/>
<polygon points="824.9,273.5 843.3,273.5 834.1,290.1" fill="#008200"/><polygon points="829.7,276.3 838.5,276.3 834.1,284.3" fill="#fff"/>
<polygon points="842,276.4 860.4,276.4 851.2,293" fill="#008200"/><polygon points="846.8,279.2 855.6,279.2 851.2,287.2" fill="#fff"/>
<polygon points="859.2,279.4 877.6,279.4 868.4,296" fill="#008200"/><polygon points="864,282.2 872.8,282.2 868.4,290.2" fill="#fff"/>
<polygon points="876.4,282.3 894.8,282.3 885.6,298.9" fill="#008200"/><polygon points="881.2,285.1 890,285.1 885.6,293.1" fill="#fff"/>
<polygon points="895.4,284.3 913.8,284.3 904.6,300.9" fill="#008200"/><polygon points="900.2,287.1 909,287.1 904.6,295.1" fill="#fff"/>
<polyline points="548.9,174.9 563.2,180.8 581.8,186.6 597.6,192.9 614,198.3 630.6,202.2 647.2,206.2 663.8,210.1 680.4,214 697.2,219.8 714.8,225.7 731.4,231.4 748.8,237.1 765.6,240.1 782.6,243 799.7,245.5 816.8,246.9 834.1,248.8 851.2,250.8 868.4,253.7 885.6,257.6 904.6,260.6" fill="none" stroke="#008200" stroke-width="4.0" stroke-linejoin="round"/>
<polygon points="539.7,173.2 558.1,173.2 548.9,189.8" fill="#008200"/>
<polygon points="554,179.1 572.4,179.1 563.2,195.7" fill="#008200"/>
<polygon points="572.6,184.9 591,184.9 581.8,201.5" fill="#008200"/>
<polygon points="588.4,191.2 606.8,191.2 597.6,207.8" fill="#008200"/>
<polygon points="604.8,196.6 623.2,196.6 614,213.2" fill="#008200"/>
<polygon points="621.4,200.5 639.8,200.5 630.6,217.1" fill="#008200"/>
<polygon points="638,204.5 656.4,204.5 647.2,221.1" fill="#008200"/>
<polygon points="654.6,208.4 673,208.4 663.8,225" fill="#008200"/>
<polygon points="671.2,212.3 689.6,212.3 680.4,228.9" fill="#008200"/>
<polygon points="688,218.1 706.4,218.1 697.2,234.7" fill="#008200"/>
<polygon points="705.6,224 724,224 714.8,240.6" fill="#008200"/>
<polygon points="722.2,229.7 740.6,229.7 731.4,246.3" fill="#008200"/>
<polygon points="739.6,235.4 758,235.4 748.8,252" fill="#008200"/>
<polygon points="756.4,238.4 774.8,238.4 765.6,255" fill="#008200"/>
<polygon points="773.4,241.3 791.8,241.3 782.6,257.9" fill="#008200"/>
<polygon points="790.5,243.8 808.9,243.8 799.7,260.4" fill="#008200"/>
<polygon points="807.6,245.2 826,245.2 816.8,261.8" fill="#008200"/>
<polygon points="824.9,247.1 843.3,247.1 834.1,263.7" fill="#008200"/>
<polygon points="842,249.1 860.4,249.1 851.2,265.7" fill="#008200"/>
<polygon points="859.2,252 877.6,252 868.4,268.6" fill="#008200"/>
<polygon points="876.4,255.9 894.8,255.9 885.6,272.5" fill="#008200"/>
<polygon points="895.4,258.9 913.8,258.9 904.6,275.5" fill="#008200"/>
<polyline points="548.9,167.3 563.2,169.7 581.8,174.2 597.6,176.1 614,178.7 630.6,180.6 647.2,182.6 663.8,184.5 680.4,185.9 697.2,187.3 714.8,188.8 731.4,191.2 748.8,191.9 765.6,193.8 782.6,196.4 799.7,198.3 816.8,200.3 834.1,201.6 851.2,203.6 868.4,205.2 885.6,207.1 904.6,209.5" fill="none" stroke="#ff0000" stroke-width="3.0" stroke-linejoin="round"/>
<circle cx="548.9" cy="167.3" r="7.8" fill="#ff0000"/>
<circle cx="563.2" cy="169.7" r="7.8" fill="#ff0000"/>
<circle cx="581.8" cy="174.2" r="7.8" fill="#ff0000"/>
<circle cx="597.6" cy="176.1" r="7.8" fill="#ff0000"/>
<circle cx="614" cy="178.7" r="7.8" fill="#ff0000"/>
<circle cx="630.6" cy="180.6" r="7.8" fill="#ff0000"/>
<circle cx="647.2" cy="182.6" r="7.8" fill="#ff0000"/>
<circle cx="663.8" cy="184.5" r="7.8" fill="#ff0000"/>
<circle cx="680.4" cy="185.9" r="7.8" fill="#ff0000"/>
<circle cx="697.2" cy="187.3" r="7.8" fill="#ff0000"/>
<circle cx="714.8" cy="188.8" r="7.8" fill="#ff0000"/>
<circle cx="731.4" cy="191.2" r="7.8" fill="#ff0000"/>
<circle cx="748.8" cy="191.9" r="7.8" fill="#ff0000"/>
<circle cx="765.6" cy="193.8" r="7.8" fill="#ff0000"/>
<circle cx="782.6" cy="196.4" r="7.8" fill="#ff0000"/>
<circle cx="799.7" cy="198.3" r="7.8" fill="#ff0000"/>
<circle cx="816.8" cy="200.3" r="7.8" fill="#ff0000"/>
<circle cx="834.1" cy="201.6" r="7.8" fill="#ff0000"/>
<circle cx="851.2" cy="203.6" r="7.8" fill="#ff0000"/>
<circle cx="868.4" cy="205.2" r="7.8" fill="#ff0000"/>
<circle cx="885.6" cy="207.1" r="7.8" fill="#ff0000"/>
<circle cx="904.6" cy="209.5" r="7.8" fill="#ff0000"/>
<rect x="538.6" y="464.5" width="376.6" height="346.5" fill="none" stroke="#000" stroke-width="2.6"/>
<path d="M624.1 811v-10M624.1 464.5v10M709.6 811v-10M709.6 464.5v10M795.1 811v-10M795.1 464.5v10M880.6 811v-10M880.6 464.5v10M538.6 510.6h10M915.2 510.6h-10M538.6 660.6h10M915.2 660.6h-10" stroke="#000" stroke-width="2.6" fill="none"/>
<polyline points="548.9,649.8 563.2,646.4 581.8,640.6 597.6,635.7 614,631.4 630.6,627.5 647.2,623 663.8,618.1 680.4,612.7 697.2,606.8 714.8,602.1 731.4,597.1 748.8,593.2 765.6,588.8 782.6,583.5 799.7,578.2 816.8,572.7 834.1,566.5 851.2,563 868.4,556.1 885.6,543.4 904.6,533.7" fill="none" stroke="#ff0000" stroke-width="3.0" stroke-linejoin="round"/>
<circle cx="548.9" cy="649.8" r="6.1" fill="#fff" stroke="#ff0000" stroke-width="3.4"/>
<circle cx="563.2" cy="646.4" r="6.1" fill="#fff" stroke="#ff0000" stroke-width="3.4"/>
<circle cx="581.8" cy="640.6" r="6.1" fill="#fff" stroke="#ff0000" stroke-width="3.4"/>
<circle cx="597.6" cy="635.7" r="6.1" fill="#fff" stroke="#ff0000" stroke-width="3.4"/>
<circle cx="614" cy="631.4" r="6.1" fill="#fff" stroke="#ff0000" stroke-width="3.4"/>
<circle cx="630.6" cy="627.5" r="6.1" fill="#fff" stroke="#ff0000" stroke-width="3.4"/>
<circle cx="647.2" cy="623" r="6.1" fill="#fff" stroke="#ff0000" stroke-width="3.4"/>
<circle cx="663.8" cy="618.1" r="6.1" fill="#fff" stroke="#ff0000" stroke-width="3.4"/>
<circle cx="680.4" cy="612.7" r="6.1" fill="#fff" stroke="#ff0000" stroke-width="3.4"/>
<circle cx="697.2" cy="606.8" r="6.1" fill="#fff" stroke="#ff0000" stroke-width="3.4"/>
<circle cx="714.8" cy="602.1" r="6.1" fill="#fff" stroke="#ff0000" stroke-width="3.4"/>
<circle cx="731.4" cy="597.1" r="6.1" fill="#fff" stroke="#ff0000" stroke-width="3.4"/>
<circle cx="748.8" cy="593.2" r="6.1" fill="#fff" stroke="#ff0000" stroke-width="3.4"/>
<circle cx="765.6" cy="588.8" r="6.1" fill="#fff" stroke="#ff0000" stroke-width="3.4"/>
<circle cx="782.6" cy="583.5" r="6.1" fill="#fff" stroke="#ff0000" stroke-width="3.4"/>
<circle cx="799.7" cy="578.2" r="6.1" fill="#fff" stroke="#ff0000" stroke-width="3.4"/>
<circle cx="816.8" cy="572.7" r="6.1" fill="#fff" stroke="#ff0000" stroke-width="3.4"/>
<circle cx="834.1" cy="566.5" r="6.1" fill="#fff" stroke="#ff0000" stroke-width="3.4"/>
<circle cx="851.2" cy="563" r="6.1" fill="#fff" stroke="#ff0000" stroke-width="3.4"/>
<circle cx="868.4" cy="556.1" r="6.1" fill="#fff" stroke="#ff0000" stroke-width="3.4"/>
<circle cx="885.6" cy="543.4" r="6.1" fill="#fff" stroke="#ff0000" stroke-width="3.4"/>
<circle cx="904.6" cy="533.7" r="6.1" fill="#fff" stroke="#ff0000" stroke-width="3.4"/>
<polyline points="548.9,626.3 563.2,623.8 581.8,617.5 597.6,614 614,609.3 630.6,604.8 647.2,601.5 663.8,597 680.4,592.5 697.2,587.8 714.8,583.3 731.4,579.2 748.8,575.1 765.6,569.8 782.6,566.3 799.7,562 816.8,558.1 834.1,554.6 851.2,550.3 868.4,542.4 885.6,533.1 904.6,524.3" fill="none" stroke="#008200" stroke-width="4.0" stroke-linejoin="round"/>
<polygon points="539.7,624.6 558.1,624.6 548.9,641.2" fill="#008200"/><polygon points="544.5,627.4 553.3,627.4 548.9,635.4" fill="#fff"/>
<polygon points="554,622.1 572.4,622.1 563.2,638.7" fill="#008200"/><polygon points="558.8,624.9 567.6,624.9 563.2,632.9" fill="#fff"/>
<polygon points="572.6,615.8 591,615.8 581.8,632.4" fill="#008200"/><polygon points="577.4,618.6 586.2,618.6 581.8,626.6" fill="#fff"/>
<polygon points="588.4,612.3 606.8,612.3 597.6,628.9" fill="#008200"/><polygon points="593.2,615.1 602,615.1 597.6,623.1" fill="#fff"/>
<polygon points="604.8,607.6 623.2,607.6 614,624.2" fill="#008200"/><polygon points="609.6,610.4 618.4,610.4 614,618.4" fill="#fff"/>
<polygon points="621.4,603.1 639.8,603.1 630.6,619.7" fill="#008200"/><polygon points="626.2,605.9 635,605.9 630.6,613.9" fill="#fff"/>
<polygon points="638,599.8 656.4,599.8 647.2,616.4" fill="#008200"/><polygon points="642.8,602.6 651.6,602.6 647.2,610.6" fill="#fff"/>
<polygon points="654.6,595.3 673,595.3 663.8,611.9" fill="#008200"/><polygon points="659.4,598.1 668.2,598.1 663.8,606.1" fill="#fff"/>
<polygon points="671.2,590.8 689.6,590.8 680.4,607.4" fill="#008200"/><polygon points="676,593.6 684.8,593.6 680.4,601.6" fill="#fff"/>
<polygon points="688,586.1 706.4,586.1 697.2,602.7" fill="#008200"/><polygon points="692.8,588.9 701.6,588.9 697.2,596.9" fill="#fff"/>
<polygon points="705.6,581.6 724,581.6 714.8,598.2" fill="#008200"/><polygon points="710.4,584.4 719.2,584.4 714.8,592.4" fill="#fff"/>
<polygon points="722.2,577.5 740.6,577.5 731.4,594.1" fill="#008200"/><polygon points="727,580.3 735.8,580.3 731.4,588.3" fill="#fff"/>
<polygon points="739.6,573.4 758,573.4 748.8,590" fill="#008200"/><polygon points="744.4,576.2 753.2,576.2 748.8,584.2" fill="#fff"/>
<polygon points="756.4,568.1 774.8,568.1 765.6,584.7" fill="#008200"/><polygon points="761.2,570.9 770,570.9 765.6,578.9" fill="#fff"/>
<polygon points="773.4,564.6 791.8,564.6 782.6,581.2" fill="#008200"/><polygon points="778.2,567.4 787,567.4 782.6,575.4" fill="#fff"/>
<polygon points="790.5,560.3 808.9,560.3 799.7,576.9" fill="#008200"/><polygon points="795.3,563.1 804.1,563.1 799.7,571.1" fill="#fff"/>
<polygon points="807.6,556.4 826,556.4 816.8,573" fill="#008200"/><polygon points="812.4,559.2 821.2,559.2 816.8,567.2" fill="#fff"/>
<polygon points="824.9,552.9 843.3,552.9 834.1,569.5" fill="#008200"/><polygon points="829.7,555.7 838.5,555.7 834.1,563.7" fill="#fff"/>
<polygon points="842,548.6 860.4,548.6 851.2,565.2" fill="#008200"/><polygon points="846.8,551.4 855.6,551.4 851.2,559.4" fill="#fff"/>
<polygon points="859.2,540.7 877.6,540.7 868.4,557.3" fill="#008200"/><polygon points="864,543.5 872.8,543.5 868.4,551.5" fill="#fff"/>
<polygon points="876.4,531.4 894.8,531.4 885.6,548" fill="#008200"/><polygon points="881.2,534.2 890,534.2 885.6,542.2" fill="#fff"/>
<polygon points="895.4,522.6 913.8,522.6 904.6,539.2" fill="#008200"/><polygon points="900.2,525.4 909,525.4 904.6,533.4" fill="#fff"/>
<polyline points="548.9,738.8 563.2,738.2 581.8,735.3 597.6,734.3 614,732.4 630.6,731 647.2,729.5 663.8,729.1 680.4,727.1 697.2,725.5 714.8,723.2 731.4,721.4 748.8,720.2 765.6,719.2 782.6,718.8 799.7,717.7 816.8,716.9 834.1,716.3 851.2,715.3 868.4,714.9 885.6,714.3 904.6,713.4" fill="none" stroke="#ff0000" stroke-width="3.0" stroke-linejoin="round"/>
<circle cx="548.9" cy="738.8" r="7.8" fill="#ff0000"/>
<circle cx="563.2" cy="738.2" r="7.8" fill="#ff0000"/>
<circle cx="581.8" cy="735.3" r="7.8" fill="#ff0000"/>
<circle cx="597.6" cy="734.3" r="7.8" fill="#ff0000"/>
<circle cx="614" cy="732.4" r="7.8" fill="#ff0000"/>
<circle cx="630.6" cy="731" r="7.8" fill="#ff0000"/>
<circle cx="647.2" cy="729.5" r="7.8" fill="#ff0000"/>
<circle cx="663.8" cy="729.1" r="7.8" fill="#ff0000"/>
<circle cx="680.4" cy="727.1" r="7.8" fill="#ff0000"/>
<circle cx="697.2" cy="725.5" r="7.8" fill="#ff0000"/>
<circle cx="714.8" cy="723.2" r="7.8" fill="#ff0000"/>
<circle cx="731.4" cy="721.4" r="7.8" fill="#ff0000"/>
<circle cx="748.8" cy="720.2" r="7.8" fill="#ff0000"/>
<circle cx="765.6" cy="719.2" r="7.8" fill="#ff0000"/>
<circle cx="782.6" cy="718.8" r="7.8" fill="#ff0000"/>
<circle cx="799.7" cy="717.7" r="7.8" fill="#ff0000"/>
<circle cx="816.8" cy="716.9" r="7.8" fill="#ff0000"/>
<circle cx="834.1" cy="716.3" r="7.8" fill="#ff0000"/>
<circle cx="851.2" cy="715.3" r="7.8" fill="#ff0000"/>
<circle cx="868.4" cy="714.9" r="7.8" fill="#ff0000"/>
<circle cx="885.6" cy="714.3" r="7.8" fill="#ff0000"/>
<circle cx="904.6" cy="713.4" r="7.8" fill="#ff0000"/>
<polyline points="548.9,718.5 563.2,717.1 581.8,715.1 597.6,713.6 614,711.6 630.6,710.1 647.2,708.3 663.8,706.7 680.4,705.4 697.2,703.4 714.8,701.9 731.4,701.3 748.8,701 765.6,699.8 782.6,698.5 799.7,697.5 816.8,696.5 834.1,695.1 851.2,693.6 868.4,692.2 885.6,690.7 904.6,688.7" fill="none" stroke="#008200" stroke-width="4.0" stroke-linejoin="round"/>
<polygon points="539.7,716.8 558.1,716.8 548.9,733.4" fill="#008200"/>
<polygon points="554,715.4 572.4,715.4 563.2,732" fill="#008200"/>
<polygon points="572.6,713.4 591,713.4 581.8,730" fill="#008200"/>
<polygon points="588.4,711.9 606.8,711.9 597.6,728.5" fill="#008200"/>
<polygon points="604.8,709.9 623.2,709.9 614,726.5" fill="#008200"/>
<polygon points="621.4,708.4 639.8,708.4 630.6,725" fill="#008200"/>
<polygon points="638,706.6 656.4,706.6 647.2,723.2" fill="#008200"/>
<polygon points="654.6,705 673,705 663.8,721.6" fill="#008200"/>
<polygon points="671.2,703.7 689.6,703.7 680.4,720.3" fill="#008200"/>
<polygon points="688,701.7 706.4,701.7 697.2,718.3" fill="#008200"/>
<polygon points="705.6,700.2 724,700.2 714.8,716.8" fill="#008200"/>
<polygon points="722.2,699.6 740.6,699.6 731.4,716.2" fill="#008200"/>
<polygon points="739.6,699.3 758,699.3 748.8,715.9" fill="#008200"/>
<polygon points="756.4,698.1 774.8,698.1 765.6,714.7" fill="#008200"/>
<polygon points="773.4,696.8 791.8,696.8 782.6,713.4" fill="#008200"/>
<polygon points="790.5,695.8 808.9,695.8 799.7,712.4" fill="#008200"/>
<polygon points="807.6,694.8 826,694.8 816.8,711.4" fill="#008200"/>
<polygon points="824.9,693.4 843.3,693.4 834.1,710" fill="#008200"/>
<polygon points="842,691.9 860.4,691.9 851.2,708.5" fill="#008200"/>
<polygon points="859.2,690.5 877.6,690.5 868.4,707.1" fill="#008200"/>
<polygon points="876.4,689 894.8,689 885.6,705.6" fill="#008200"/>
<polygon points="895.4,687 913.8,687 904.6,703.6" fill="#008200"/>
<rect x="538.6" y="912.8" width="376.6" height="345.8" fill="none" stroke="#000" stroke-width="2.6"/>
<path d="M624.1 1258.6v-10M624.1 912.8v10M709.6 1258.6v-10M709.6 912.8v10M795.1 1258.6v-10M795.1 912.8v10M880.6 1258.6v-10M880.6 912.8v10M538.6 982h10M915.2 982h-10M538.6 1121.2h10M915.2 1121.2h-10" stroke="#000" stroke-width="2.6" fill="none"/>
<polyline points="548.9,1154.1 563.2,1150.2 581.8,1144.3 597.6,1140.4 614,1138.5 630.6,1134.6 647.2,1131.6 663.8,1128.7 680.4,1125.8 697.2,1122.8 714.8,1119.9 731.4,1118.9 748.8,1117 765.6,1114 782.6,1112.1 799.7,1111.1 816.8,1110.1 834.1,1109.2 851.2,1109.2 868.4,1110.1 885.6,1111.7 904.6,1114" fill="none" stroke="#008200" stroke-width="4.0" stroke-linejoin="round"/>
<polygon points="539.7,1152.4 558.1,1152.4 548.9,1169" fill="#008200"/><polygon points="544.5,1155.2 553.3,1155.2 548.9,1163.2" fill="#fff"/>
<polygon points="554,1148.5 572.4,1148.5 563.2,1165.1" fill="#008200"/><polygon points="558.8,1151.3 567.6,1151.3 563.2,1159.3" fill="#fff"/>
<polygon points="572.6,1142.6 591,1142.6 581.8,1159.2" fill="#008200"/><polygon points="577.4,1145.4 586.2,1145.4 581.8,1153.4" fill="#fff"/>
<polygon points="588.4,1138.7 606.8,1138.7 597.6,1155.3" fill="#008200"/><polygon points="593.2,1141.5 602,1141.5 597.6,1149.5" fill="#fff"/>
<polygon points="604.8,1136.8 623.2,1136.8 614,1153.4" fill="#008200"/><polygon points="609.6,1139.6 618.4,1139.6 614,1147.6" fill="#fff"/>
<polygon points="621.4,1132.9 639.8,1132.9 630.6,1149.5" fill="#008200"/><polygon points="626.2,1135.7 635,1135.7 630.6,1143.7" fill="#fff"/>
<polygon points="638,1129.9 656.4,1129.9 647.2,1146.5" fill="#008200"/><polygon points="642.8,1132.7 651.6,1132.7 647.2,1140.7" fill="#fff"/>
<polygon points="654.6,1127 673,1127 663.8,1143.6" fill="#008200"/><polygon points="659.4,1129.8 668.2,1129.8 663.8,1137.8" fill="#fff"/>
<polygon points="671.2,1124.1 689.6,1124.1 680.4,1140.7" fill="#008200"/><polygon points="676,1126.9 684.8,1126.9 680.4,1134.9" fill="#fff"/>
<polygon points="688,1121.1 706.4,1121.1 697.2,1137.7" fill="#008200"/><polygon points="692.8,1123.9 701.6,1123.9 697.2,1131.9" fill="#fff"/>
<polygon points="705.6,1118.2 724,1118.2 714.8,1134.8" fill="#008200"/><polygon points="710.4,1121 719.2,1121 714.8,1129" fill="#fff"/>
<polygon points="722.2,1117.2 740.6,1117.2 731.4,1133.8" fill="#008200"/><polygon points="727,1120 735.8,1120 731.4,1128" fill="#fff"/>
<polygon points="739.6,1115.3 758,1115.3 748.8,1131.9" fill="#008200"/><polygon points="744.4,1118.1 753.2,1118.1 748.8,1126.1" fill="#fff"/>
<polygon points="756.4,1112.3 774.8,1112.3 765.6,1128.9" fill="#008200"/><polygon points="761.2,1115.1 770,1115.1 765.6,1123.1" fill="#fff"/>
<polygon points="773.4,1110.4 791.8,1110.4 782.6,1127" fill="#008200"/><polygon points="778.2,1113.2 787,1113.2 782.6,1121.2" fill="#fff"/>
<polygon points="790.5,1109.4 808.9,1109.4 799.7,1126" fill="#008200"/><polygon points="795.3,1112.2 804.1,1112.2 799.7,1120.2" fill="#fff"/>
<polygon points="807.6,1108.4 826,1108.4 816.8,1125" fill="#008200"/><polygon points="812.4,1111.2 821.2,1111.2 816.8,1119.2" fill="#fff"/>
<polygon points="824.9,1107.5 843.3,1107.5 834.1,1124.1" fill="#008200"/><polygon points="829.7,1110.3 838.5,1110.3 834.1,1118.3" fill="#fff"/>
<polygon points="842,1107.5 860.4,1107.5 851.2,1124.1" fill="#008200"/><polygon points="846.8,1110.3 855.6,1110.3 851.2,1118.3" fill="#fff"/>
<polygon points="859.2,1108.4 877.6,1108.4 868.4,1125" fill="#008200"/><polygon points="864,1111.2 872.8,1111.2 868.4,1119.2" fill="#fff"/>
<polygon points="876.4,1110 894.8,1110 885.6,1126.6" fill="#008200"/><polygon points="881.2,1112.8 890,1112.8 885.6,1120.8" fill="#fff"/>
<polygon points="895.4,1112.3 913.8,1112.3 904.6,1128.9" fill="#008200"/><polygon points="900.2,1115.1 909,1115.1 904.6,1123.1" fill="#fff"/>
<polyline points="548.9,1129.9 563.2,1125 581.8,1120.2 597.6,1115.3 614,1111.4 630.6,1107.5 647.2,1103.6 663.8,1099.6 680.4,1095.7 697.2,1092.8 714.8,1090.9 731.4,1088.9 748.8,1086.6 765.6,1084 782.6,1082.1 799.7,1081.1 816.8,1081.1 834.1,1082.7 851.2,1086.6 868.4,1092.8 885.6,1098.7 904.6,1105.5" fill="none" stroke="#ff0000" stroke-width="3.0" stroke-linejoin="round"/>
<circle cx="548.9" cy="1129.9" r="6.1" fill="#fff" stroke="#ff0000" stroke-width="3.4"/>
<circle cx="563.2" cy="1125" r="6.1" fill="#fff" stroke="#ff0000" stroke-width="3.4"/>
<circle cx="581.8" cy="1120.2" r="6.1" fill="#fff" stroke="#ff0000" stroke-width="3.4"/>
<circle cx="597.6" cy="1115.3" r="6.1" fill="#fff" stroke="#ff0000" stroke-width="3.4"/>
<circle cx="614" cy="1111.4" r="6.1" fill="#fff" stroke="#ff0000" stroke-width="3.4"/>
<circle cx="630.6" cy="1107.5" r="6.1" fill="#fff" stroke="#ff0000" stroke-width="3.4"/>
<circle cx="647.2" cy="1103.6" r="6.1" fill="#fff" stroke="#ff0000" stroke-width="3.4"/>
<circle cx="663.8" cy="1099.6" r="6.1" fill="#fff" stroke="#ff0000" stroke-width="3.4"/>
<circle cx="680.4" cy="1095.7" r="6.1" fill="#fff" stroke="#ff0000" stroke-width="3.4"/>
<circle cx="697.2" cy="1092.8" r="6.1" fill="#fff" stroke="#ff0000" stroke-width="3.4"/>
<circle cx="714.8" cy="1090.9" r="6.1" fill="#fff" stroke="#ff0000" stroke-width="3.4"/>
<circle cx="731.4" cy="1088.9" r="6.1" fill="#fff" stroke="#ff0000" stroke-width="3.4"/>
<circle cx="748.8" cy="1086.6" r="6.1" fill="#fff" stroke="#ff0000" stroke-width="3.4"/>
<circle cx="765.6" cy="1084" r="6.1" fill="#fff" stroke="#ff0000" stroke-width="3.4"/>
<circle cx="782.6" cy="1082.1" r="6.1" fill="#fff" stroke="#ff0000" stroke-width="3.4"/>
<circle cx="799.7" cy="1081.1" r="6.1" fill="#fff" stroke="#ff0000" stroke-width="3.4"/>
<circle cx="816.8" cy="1081.1" r="6.1" fill="#fff" stroke="#ff0000" stroke-width="3.4"/>
<circle cx="834.1" cy="1082.7" r="6.1" fill="#fff" stroke="#ff0000" stroke-width="3.4"/>
<circle cx="851.2" cy="1086.6" r="6.1" fill="#fff" stroke="#ff0000" stroke-width="3.4"/>
<circle cx="868.4" cy="1092.8" r="6.1" fill="#fff" stroke="#ff0000" stroke-width="3.4"/>
<circle cx="885.6" cy="1098.7" r="6.1" fill="#fff" stroke="#ff0000" stroke-width="3.4"/>
<circle cx="904.6" cy="1105.5" r="6.1" fill="#fff" stroke="#ff0000" stroke-width="3.4"/>
<polyline points="548.9,1087 563.2,1082.1 581.8,1077.2 597.6,1075.2 614,1075.2 630.6,1075.2 647.2,1074.3 663.8,1073.3 680.4,1072.9 697.2,1072.9 714.8,1072.3 731.4,1071.3 748.8,1070.4 765.6,1068.4 782.6,1065.5 799.7,1063.5 816.8,1061.6 834.1,1060.6 851.2,1058.6 868.4,1056.7 885.6,1053.8 904.6,1050.8" fill="none" stroke="#ff0000" stroke-width="3.0" stroke-linejoin="round"/>
<circle cx="548.9" cy="1087" r="7.8" fill="#ff0000"/>
<circle cx="563.2" cy="1082.1" r="7.8" fill="#ff0000"/>
<circle cx="581.8" cy="1077.2" r="7.8" fill="#ff0000"/>
<circle cx="597.6" cy="1075.2" r="7.8" fill="#ff0000"/>
<circle cx="614" cy="1075.2" r="7.8" fill="#ff0000"/>
<circle cx="630.6" cy="1075.2" r="7.8" fill="#ff0000"/>
<circle cx="647.2" cy="1074.3" r="7.8" fill="#ff0000"/>
<circle cx="663.8" cy="1073.3" r="7.8" fill="#ff0000"/>
<circle cx="680.4" cy="1072.9" r="7.8" fill="#ff0000"/>
<circle cx="697.2" cy="1072.9" r="7.8" fill="#ff0000"/>
<circle cx="714.8" cy="1072.3" r="7.8" fill="#ff0000"/>
<circle cx="731.4" cy="1071.3" r="7.8" fill="#ff0000"/>
<circle cx="748.8" cy="1070.4" r="7.8" fill="#ff0000"/>
<circle cx="765.6" cy="1068.4" r="7.8" fill="#ff0000"/>
<circle cx="782.6" cy="1065.5" r="7.8" fill="#ff0000"/>
<circle cx="799.7" cy="1063.5" r="7.8" fill="#ff0000"/>
<circle cx="816.8" cy="1061.6" r="7.8" fill="#ff0000"/>
<circle cx="834.1" cy="1060.6" r="7.8" fill="#ff0000"/>
<circle cx="851.2" cy="1058.6" r="7.8" fill="#ff0000"/>
<circle cx="868.4" cy="1056.7" r="7.8" fill="#ff0000"/>
<circle cx="885.6" cy="1053.8" r="7.8" fill="#ff0000"/>
<circle cx="904.6" cy="1050.8" r="7.8" fill="#ff0000"/>
<polyline points="548.9,1098.4 563.2,1091.6 581.8,1082.8 597.6,1076.9 614,1070.1 630.6,1065.2 647.2,1060.3 663.8,1055.1 680.4,1047.6 697.2,1037.9 714.8,1027.1 731.4,1019.8 748.8,1012.5 765.6,1005.6 782.6,1001.7 799.7,1001.7 816.8,1001.7 834.1,998.8 851.2,994.9 868.4,990 885.6,985.1 904.6,981.2" fill="none" stroke="#008200" stroke-width="4.0" stroke-linejoin="round"/>
<polygon points="539.7,1096.7 558.1,1096.7 548.9,1113.3" fill="#008200"/>
<polygon points="554,1089.9 572.4,1089.9 563.2,1106.5" fill="#008200"/>
<polygon points="572.6,1081.1 591,1081.1 581.8,1097.7" fill="#008200"/>
<polygon points="588.4,1075.2 606.8,1075.2 597.6,1091.8" fill="#008200"/>
<polygon points="604.8,1068.4 623.2,1068.4 614,1085" fill="#008200"/>
<polygon points="621.4,1063.5 639.8,1063.5 630.6,1080.1" fill="#008200"/>
<polygon points="638,1058.6 656.4,1058.6 647.2,1075.2" fill="#008200"/>
<polygon points="654.6,1053.4 673,1053.4 663.8,1070" fill="#008200"/>
<polygon points="671.2,1045.9 689.6,1045.9 680.4,1062.5" fill="#008200"/>
<polygon points="688,1036.2 706.4,1036.2 697.2,1052.8" fill="#008200"/>
<polygon points="705.6,1025.4 724,1025.4 714.8,1042" fill="#008200"/>
<polygon points="722.2,1018.1 740.6,1018.1 731.4,1034.7" fill="#008200"/>
<polygon points="739.6,1010.8 758,1010.8 748.8,1027.4" fill="#008200"/>
<polygon points="756.4,1003.9 774.8,1003.9 765.6,1020.5" fill="#008200"/>
<polygon points="773.4,1000 791.8,1000 782.6,1016.6" fill="#008200"/>
<polygon points="790.5,1000 808.9,1000 799.7,1016.6" fill="#008200"/>
<polygon points="807.6,1000 826,1000 816.8,1016.6" fill="#008200"/>
<polygon points="824.9,997.1 843.3,997.1 834.1,1013.7" fill="#008200"/>
<polygon points="842,993.2 860.4,993.2 851.2,1009.8" fill="#008200"/>
<polygon points="859.2,988.3 877.6,988.3 868.4,1004.9" fill="#008200"/>
<polygon points="876.4,983.4 894.8,983.4 885.6,1000" fill="#008200"/>
<polygon points="895.4,979.5 913.8,979.5 904.6,996.1" fill="#008200"/>
<line x1="810" y1="99" x2="823.5" y2="242.3" stroke="#008200" stroke-width="2.6"/>
<line x1="830" y1="96" x2="888" y2="279.4" stroke="#008200" stroke-width="2.6"/>
<line x1="557.5" y1="175" x2="583" y2="312" stroke="#ff0000" stroke-width="2.6"/>
<line x1="623" y1="246.4" x2="591.6" y2="309" stroke="#ff0000" stroke-width="2.6"/>
<line x1="592" y1="532" x2="598" y2="612.5" stroke="#008200" stroke-width="2.6"/>
<line x1="606" y1="530" x2="685.4" y2="691.6" stroke="#008200" stroke-width="2.6"/>
<line x1="690.3" y1="616.4" x2="762.5" y2="750.2" stroke="#ff0000" stroke-width="2.6"/>
<line x1="735.2" y1="727.7" x2="754.7" y2="751.1" stroke="#ff0000" stroke-width="2.6"/>
<polyline points="597.5,1134.8 670,968 702,1029.3" fill="none" stroke="#008200" stroke-width="3.6" stroke-linejoin="miter"/>
<polyline points="749.3,1075.2 839.5,1190 845,1087" fill="none" stroke="#ff0000" stroke-width="3.6" stroke-linejoin="miter"/>
<text x="98" y="21.6" font-size="23" font-family="Liberation Sans" font-weight="bold" text-anchor="end" fill="#000" >0</text>
<text x="98" y="131" font-size="23" font-family="Liberation Sans" font-weight="bold" text-anchor="end" fill="#000" >-100</text>
<text x="98" y="239.5" font-size="23" font-family="Liberation Sans" font-weight="bold" text-anchor="end" fill="#000" >-200</text>
<text x="98" y="347.6" font-size="23" font-family="Liberation Sans" font-weight="bold" text-anchor="end" fill="#000" >-300</text>
<text x="98" y="819" font-size="23" font-family="Liberation Sans" font-weight="bold" text-anchor="end" fill="#000" >0</text>
<text x="98" y="681" font-size="23" font-family="Liberation Sans" font-weight="bold" text-anchor="end" fill="#000" >1</text>
<text x="98" y="541.5" font-size="23" font-family="Liberation Sans" font-weight="bold" text-anchor="end" fill="#000" >2</text>
<text x="98" y="1266" font-size="23" font-family="Liberation Sans" font-weight="bold" text-anchor="end" fill="#000" >0</text>
<text x="98" y="1094" font-size="23" font-family="Liberation Sans" font-weight="bold" text-anchor="end" fill="#000" >2</text>
<text x="98" y="921" font-size="23" font-family="Liberation Sans" font-weight="bold" text-anchor="end" fill="#000" >4</text>
<text x="926" y="21.6" font-size="23" font-family="Liberation Sans" font-weight="bold" text-anchor="start" fill="#000" >0</text>
<text x="926" y="162.8" font-size="23" font-family="Liberation Sans" font-weight="bold" text-anchor="start" fill="#000" >-100</text>
<text x="926" y="300.5" font-size="23" font-family="Liberation Sans" font-weight="bold" text-anchor="start" fill="#000" >-200</text>
<text x="926" y="818" font-size="23" font-family="Liberation Sans" font-weight="bold" text-anchor="start" fill="#000" >0</text>
<text x="926" y="668.5" font-size="23" font-family="Liberation Sans" font-weight="bold" text-anchor="start" fill="#000" >1</text>
<text x="926" y="516.5" font-size="23" font-family="Liberation Sans" font-weight="bold" text-anchor="start" fill="#000" >2</text>
<text x="926" y="1266" font-size="23" font-family="Liberation Sans" font-weight="bold" text-anchor="start" fill="#000" >0</text>
<text x="926" y="1129" font-size="23" font-family="Liberation Sans" font-weight="bold" text-anchor="start" fill="#000" >2</text>
<text x="926" y="989" font-size="23" font-family="Liberation Sans" font-weight="bold" text-anchor="start" fill="#000" >4</text>
<text x="109.2" y="392.3" font-size="23" font-family="Liberation Sans" font-weight="bold" text-anchor="middle" fill="#000" >300</text>
<text x="194.7" y="392.3" font-size="23" font-family="Liberation Sans" font-weight="bold" text-anchor="middle" fill="#000" >400</text>
<text x="280.2" y="392.3" font-size="23" font-family="Liberation Sans" font-weight="bold" text-anchor="middle" fill="#000" >500</text>
<text x="365.7" y="392.3" font-size="23" font-family="Liberation Sans" font-weight="bold" text-anchor="middle" fill="#000" >600</text>
<text x="451.2" y="392.3" font-size="23" font-family="Liberation Sans" font-weight="bold" text-anchor="middle" fill="#000" >700</text>
<text x="109.2" y="1288.3" font-size="23" font-family="Liberation Sans" font-weight="bold" text-anchor="middle" fill="#000" >300</text>
<text x="194.7" y="1288.3" font-size="23" font-family="Liberation Sans" font-weight="bold" text-anchor="middle" fill="#000" >400</text>
<text x="280.2" y="1288.3" font-size="23" font-family="Liberation Sans" font-weight="bold" text-anchor="middle" fill="#000" >500</text>
<text x="365.7" y="1288.3" font-size="23" font-family="Liberation Sans" font-weight="bold" text-anchor="middle" fill="#000" >600</text>
<text x="451.2" y="1288.3" font-size="23" font-family="Liberation Sans" font-weight="bold" text-anchor="middle" fill="#000" >700</text>
<text x="538.6" y="392.3" font-size="23" font-family="Liberation Sans" font-weight="bold" text-anchor="middle" fill="#000" >300</text>
<text x="624.1" y="392.3" font-size="23" font-family="Liberation Sans" font-weight="bold" text-anchor="middle" fill="#000" >400</text>
<text x="709.6" y="392.3" font-size="23" font-family="Liberation Sans" font-weight="bold" text-anchor="middle" fill="#000" >500</text>
<text x="795.1" y="392.3" font-size="23" font-family="Liberation Sans" font-weight="bold" text-anchor="middle" fill="#000" >600</text>
<text x="880.6" y="392.3" font-size="23" font-family="Liberation Sans" font-weight="bold" text-anchor="middle" fill="#000" >700</text>
<text x="538.6" y="839.7" font-size="23" font-family="Liberation Sans" font-weight="bold" text-anchor="middle" fill="#000" >300</text>
<text x="624.1" y="839.7" font-size="23" font-family="Liberation Sans" font-weight="bold" text-anchor="middle" fill="#000" >400</text>
<text x="709.6" y="839.7" font-size="23" font-family="Liberation Sans" font-weight="bold" text-anchor="middle" fill="#000" >500</text>
<text x="795.1" y="839.7" font-size="23" font-family="Liberation Sans" font-weight="bold" text-anchor="middle" fill="#000" >600</text>
<text x="880.6" y="839.7" font-size="23" font-family="Liberation Sans" font-weight="bold" text-anchor="middle" fill="#000" >700</text>
<text x="538.6" y="1288.3" font-size="23" font-family="Liberation Sans" font-weight="bold" text-anchor="middle" fill="#000" >300</text>
<text x="624.1" y="1288.3" font-size="23" font-family="Liberation Sans" font-weight="bold" text-anchor="middle" fill="#000" >400</text>
<text x="709.6" y="1288.3" font-size="23" font-family="Liberation Sans" font-weight="bold" text-anchor="middle" fill="#000" >500</text>
<text x="795.1" y="1288.3" font-size="23" font-family="Liberation Sans" font-weight="bold" text-anchor="middle" fill="#000" >600</text>
<text x="880.6" y="1288.3" font-size="23" font-family="Liberation Sans" font-weight="bold" text-anchor="middle" fill="#000" >700</text>
<text x="243.3" y="839.7" font-size="23" font-family="Liberation Sans" font-weight="bold" text-anchor="middle" fill="#000" >0.002</text>
<text x="437.6" y="839.7" font-size="23" font-family="Liberation Sans" font-weight="bold" text-anchor="middle" fill="#000" >0.003</text>
<text x="240" y="433" font-size="36" font-family="Liberation Sans" font-weight="normal" text-anchor="start" fill="#000" >T (K)</text>
<text x="256.7" y="1326.4" font-size="36" font-family="Liberation Sans" font-weight="normal" text-anchor="start" fill="#000" >T (K)</text>
<text x="670.5" y="428.7" font-size="36" font-family="Liberation Sans" font-weight="normal" text-anchor="start" fill="#000" >T (K)</text>
<text x="682.6" y="878.1" font-size="36" font-family="Liberation Sans" font-weight="normal" text-anchor="start" fill="#000" >T (K)</text>
<text x="678.9" y="1326.4" font-size="36" font-family="Liberation Sans" font-weight="normal" text-anchor="start" fill="#000" >T (K)</text>
<text x="227" y="879.6" font-size="36" font-family="Liberation Sans" fill="#000">1/T (K<tspan font-size="20" dy="-19">-1</tspan><tspan dy="19">)</tspan></text>
<text transform="translate(40 161.7) rotate(-90)" x="0" y="0" text-anchor="middle" font-size="36" font-family="Liberation Sans" fill="#000">S (μV K<tspan font-size="20" dy="-19">-1</tspan><tspan dy="19">)</tspan></text>
<text transform="translate(40 632) rotate(-90)" x="0" y="0" text-anchor="middle" font-size="36" font-family="Liberation Sans" fill="#000">ln ρ (mΩ cm)</text>
<text transform="translate(40 1083.5) rotate(-90)" x="0" y="0" text-anchor="middle" font-size="36" font-family="Liberation Sans" fill="#000">S<tspan font-size="20" dy="-19">2</tspan><tspan dy="19">/ρ (mW m</tspan><tspan font-size="20" dy="-19">-1</tspan><tspan dy="19"> K</tspan><tspan font-size="20" dy="-19">-2</tspan><tspan dy="19">)</tspan></text>
<text transform="translate(981 192) rotate(90)" x="0" y="0" text-anchor="middle" font-size="36" font-family="Liberation Sans" fill="#000">S (μV K<tspan font-size="20" dy="-19">-1</tspan><tspan dy="19">)</tspan></text>
<text transform="translate(981 640) rotate(90)" x="0" y="0" text-anchor="middle" font-size="36" font-family="Liberation Sans" fill="#000">ρ (mΩ cm)</text>
<text transform="translate(980.5 1091) rotate(90)" x="0" y="0" text-anchor="middle" font-size="36" font-family="Liberation Sans" fill="#000">S<tspan font-size="20" dy="-19">2</tspan><tspan dy="19">/ρ (mW m</tspan><tspan font-size="20" dy="-19">-1</tspan><tspan dy="19"> K</tspan><tspan font-size="20" dy="-19">-2</tspan><tspan dy="19">)</tspan></text>
<text x="432" y="50" font-size="27" font-family="Liberation Sans" font-weight="bold" text-anchor="start" fill="#000" >(a)</text>
<text x="125" y="506" font-size="27" font-family="Liberation Sans" font-weight="bold" text-anchor="start" fill="#000" >(b)</text>
<text x="131.5" y="954" font-size="27" font-family="Liberation Sans" font-weight="bold" text-anchor="start" fill="#000" >(c)</text>
<text x="865" y="55.5" font-size="27" font-family="Liberation Sans" font-weight="bold" text-anchor="start" fill="#000" >(d)</text>
<text x="857" y="503.5" font-size="27" font-family="Liberation Sans" font-weight="bold" text-anchor="start" fill="#000" >(e)</text>
<text x="873" y="943" font-size="27" font-family="Liberation Sans" font-weight="bold" text-anchor="start" fill="#000" >(f)</text>
<text x="114" y="53" font-size="28.8" font-family="Liberation Sans" font-weight="bold" fill="#000">Ti<tspan dy="12.3" font-size="17">0.5</tspan><tspan dy="-12.3">Zr</tspan><tspan dy="12.3" font-size="17">0.5</tspan><tspan dy="-12.3">NiSn</tspan></text>
<text x="178" y="507" font-size="28.8" font-family="Liberation Sans" font-weight="bold" fill="#000">Ti<tspan dy="12.3" font-size="17">0.5</tspan><tspan dy="-12.3">Zr</tspan><tspan dy="12.3" font-size="17">0.5</tspan><tspan dy="-12.3">NiSn</tspan></text>
<text x="302" y="1214" font-size="28.8" font-family="Liberation Sans" font-weight="bold" fill="#000">Ti<tspan dy="12.3" font-size="17">0.5</tspan><tspan dy="-12.3">Zr</tspan><tspan dy="12.3" font-size="17">0.5</tspan><tspan dy="-12.3">NiSn</tspan></text>
<text x="557.5" y="76.3" font-size="28.8" font-family="Liberation Sans" font-weight="bold" fill="#008200">Ti<tspan dy="12.3" font-size="17">0.5</tspan><tspan dy="-12.3">Zr</tspan><tspan dy="12.3" font-size="17">0.5</tspan><tspan dy="-12.3">NiSn</tspan><tspan dy="12.3" font-size="17">0.94</tspan><tspan dy="-12.3">Sb</tspan><tspan dy="12.3" font-size="17">0.01</tspan></text>
<text x="545.5" y="331" font-size="28.8" font-family="Liberation Sans" font-weight="bold" fill="#ee1111">Ti<tspan dy="12.3" font-size="17">0.5</tspan><tspan dy="-12.3">Zr</tspan><tspan dy="12.3" font-size="17">0.5</tspan><tspan dy="-12.3">NiSn</tspan><tspan dy="12.3" font-size="17">0.99</tspan><tspan dy="-12.3">Sb</tspan><tspan dy="12.3" font-size="17">0.01</tspan></text>
<text x="553.5" y="497.5" font-size="28.8" font-family="Liberation Sans" font-weight="bold" fill="#008200">Ti<tspan dy="12.3" font-size="17">0.5</tspan><tspan dy="-12.3">Zr</tspan><tspan dy="12.3" font-size="17">0.5</tspan><tspan dy="-12.3">NiSn</tspan><tspan dy="12.3" font-size="17">0.94</tspan><tspan dy="-12.3">Sb</tspan><tspan dy="12.3" font-size="17">0.01</tspan></text>
<text x="632" y="772.6" font-size="28.8" font-family="Liberation Sans" font-weight="bold" fill="#ee1111">Ti<tspan dy="12.3" font-size="17">0.5</tspan><tspan dy="-12.3">Zr</tspan><tspan dy="12.3" font-size="17">0.5</tspan><tspan dy="-12.3">NiSn</tspan><tspan dy="12.3" font-size="17">0.99</tspan><tspan dy="-12.3">Sb</tspan><tspan dy="12.3" font-size="17">0.01</tspan></text>
<text x="548.5" y="955.5" font-size="28.8" font-family="Liberation Sans" font-weight="bold" fill="#008200">Ti<tspan dy="12.3" font-size="17">0.5</tspan><tspan dy="-12.3">Zr</tspan><tspan dy="12.3" font-size="17">0.5</tspan><tspan dy="-12.3">NiSn</tspan><tspan dy="12.3" font-size="17">0.94</tspan><tspan dy="-12.3">Sb</tspan><tspan dy="12.3" font-size="17">0.01</tspan></text>
<text x="629.5" y="1224.4" font-size="28.8" font-family="Liberation Sans" font-weight="bold" fill="#ee1111">Ti<tspan dy="12.3" font-size="17">0.5</tspan><tspan dy="-12.3">Zr</tspan><tspan dy="12.3" font-size="17">0.5</tspan><tspan dy="-12.3">NiSn</tspan><tspan dy="12.3" font-size="17">0.99</tspan><tspan dy="-12.3">Sb</tspan><tspan dy="12.3" font-size="17">0.01</tspan></text>
</svg>
</div></body></html>
